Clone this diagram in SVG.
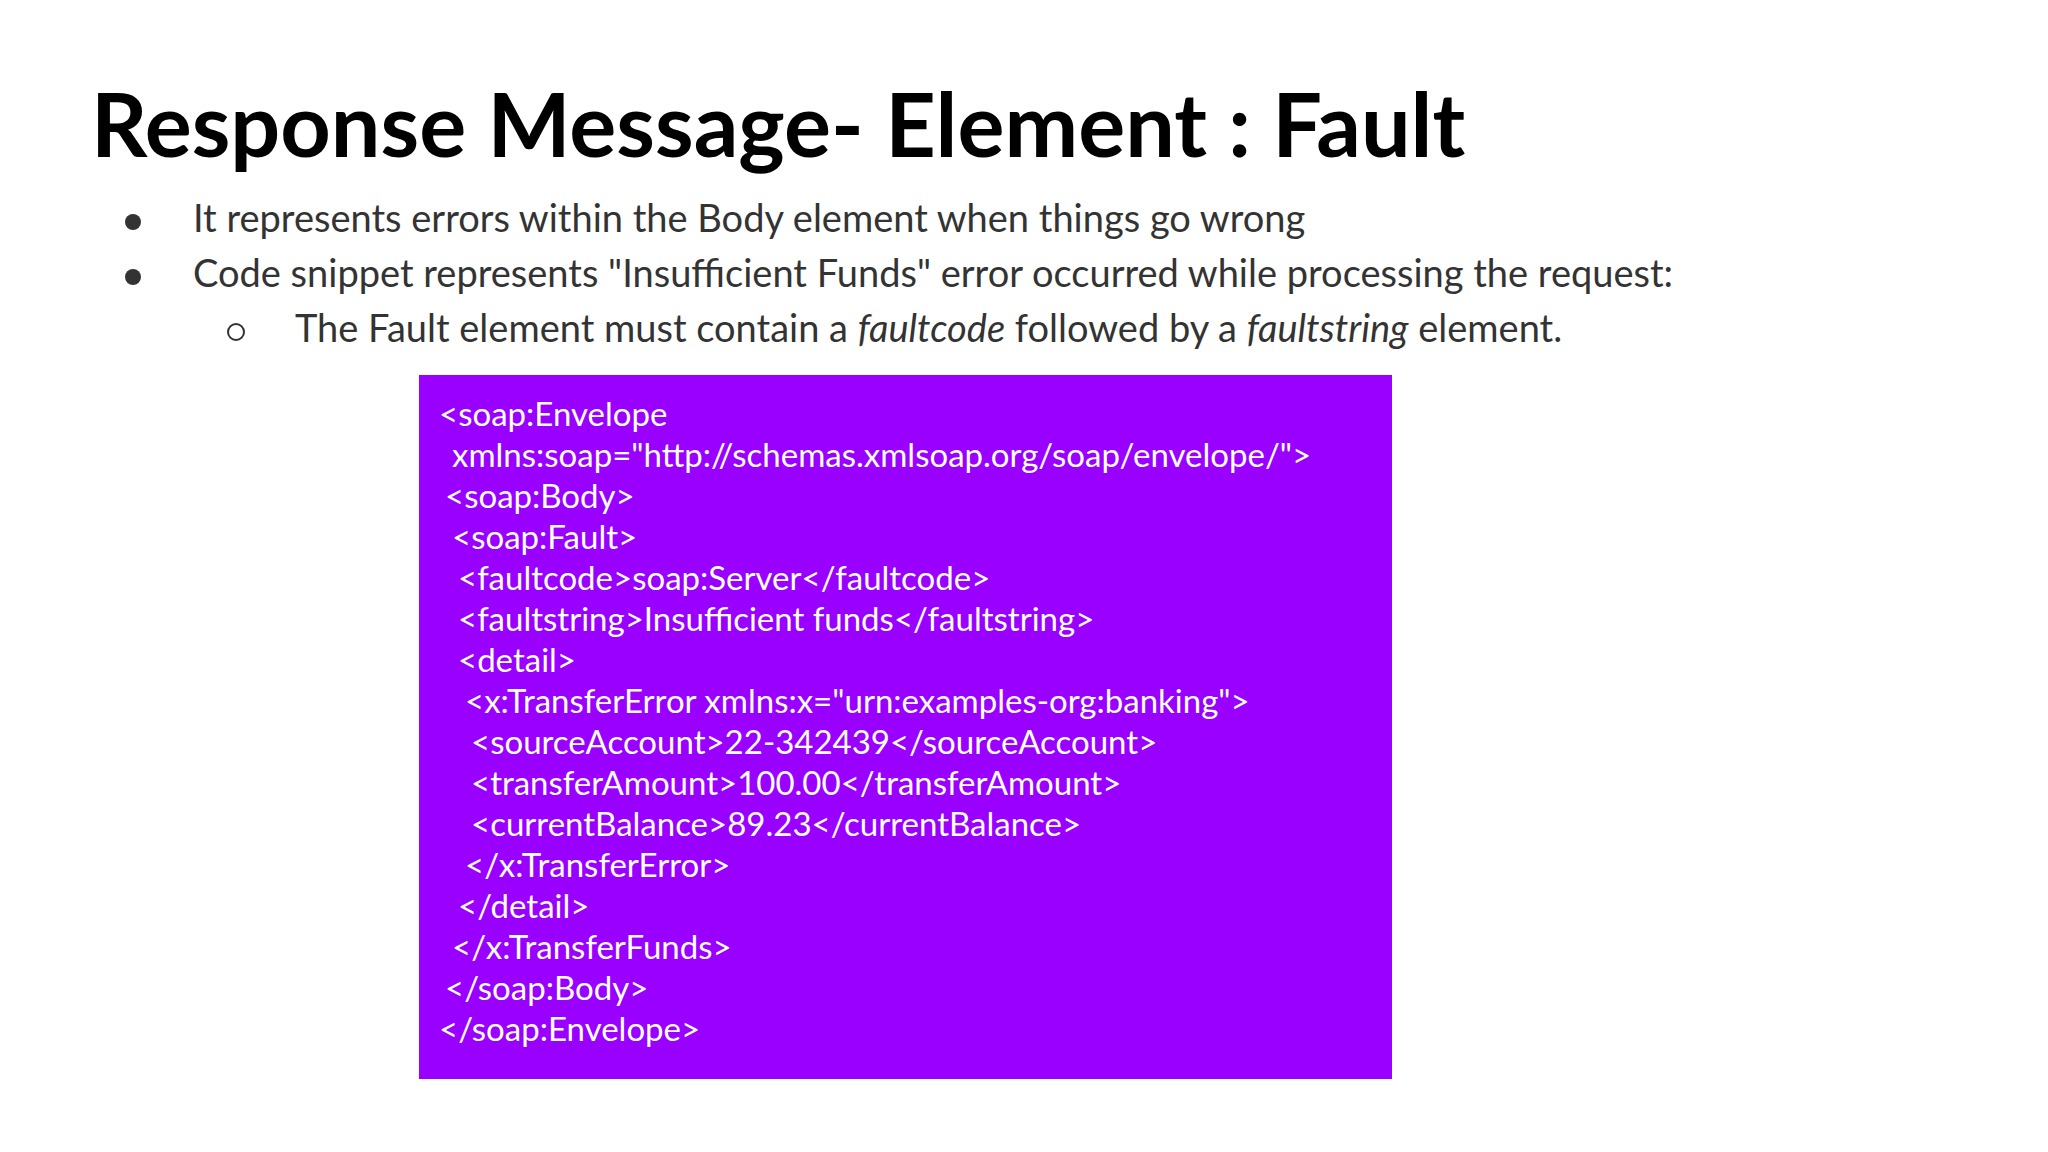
<svg xmlns="http://www.w3.org/2000/svg" width="2048" height="1152" viewBox="0 0 2048 1152">
<style>
.t{font-family:Lato,"Noto Sans",sans-serif;font-weight:700;font-size:88px;fill:#000}
.b{font-family:Lato,"Open Sans",sans-serif;font-size:38px;fill:#333}
.c{font-family:Lato,"Open Sans",sans-serif;font-size:33px;fill:#fff}
</style>
<rect width="2048" height="1152" fill="#fff"/>
<g id="title"><text class="t" x="91" y="157">Response Message- Element : Fault</text></g>
<g id="bullets">
<circle cx="133" cy="222" r="8" fill="#333"/>
<text class="b" x="193" y="232">It represents errors within the Body element when things go wrong</text>
<circle cx="133" cy="277" r="8" fill="#333"/>
<text class="b" x="193" y="287">Code snippet represents "Insufficient Funds" error occurred while processing the request:</text>
<circle cx="236" cy="332" r="8" fill="none" stroke="#333" stroke-width="2"/>
<text class="b" x="295" y="342">The Fault element must contain a <tspan font-style="italic">faultcode</tspan> followed by a <tspan font-style="italic">faultstring</tspan> element.</text>
</g>
<g id="code">
<rect x="419" y="375" width="973" height="704" fill="#9900ff"/>
<text class="c" x="439" y="426">&lt;soap:Envelope</text>
<text class="c" x="452" y="467">xmlns:soap="http://schemas.xmlsoap.org/soap/envelope/"&gt;</text>
<text class="c" x="445" y="508">&lt;soap:Body&gt;</text>
<text class="c" x="452" y="549">&lt;soap:Fault&gt;</text>
<text class="c" x="458" y="590">&lt;faultcode&gt;soap:Server&lt;/faultcode&gt;</text>
<text class="c" x="458" y="631">&lt;faultstring&gt;Insufficient funds&lt;/faultstring&gt;</text>
<text class="c" x="458" y="672">&lt;detail&gt;</text>
<text class="c" x="465" y="713">&lt;x:TransferError xmlns:x="urn:examples-org:banking"&gt;</text>
<text class="c" x="471" y="754">&lt;sourceAccount&gt;22-342439&lt;/sourceAccount&gt;</text>
<text class="c" x="471" y="795">&lt;transferAmount&gt;100.00&lt;/transferAmount&gt;</text>
<text class="c" x="471" y="836">&lt;currentBalance&gt;89.23&lt;/currentBalance&gt;</text>
<text class="c" x="465" y="877">&lt;/x:TransferError&gt;</text>
<text class="c" x="458" y="918">&lt;/detail&gt;</text>
<text class="c" x="452" y="959">&lt;/x:TransferFunds&gt;</text>
<text class="c" x="445" y="1000">&lt;/soap:Body&gt;</text>
<text class="c" x="439" y="1041">&lt;/soap:Envelope&gt;</text>
</g>
</svg>
